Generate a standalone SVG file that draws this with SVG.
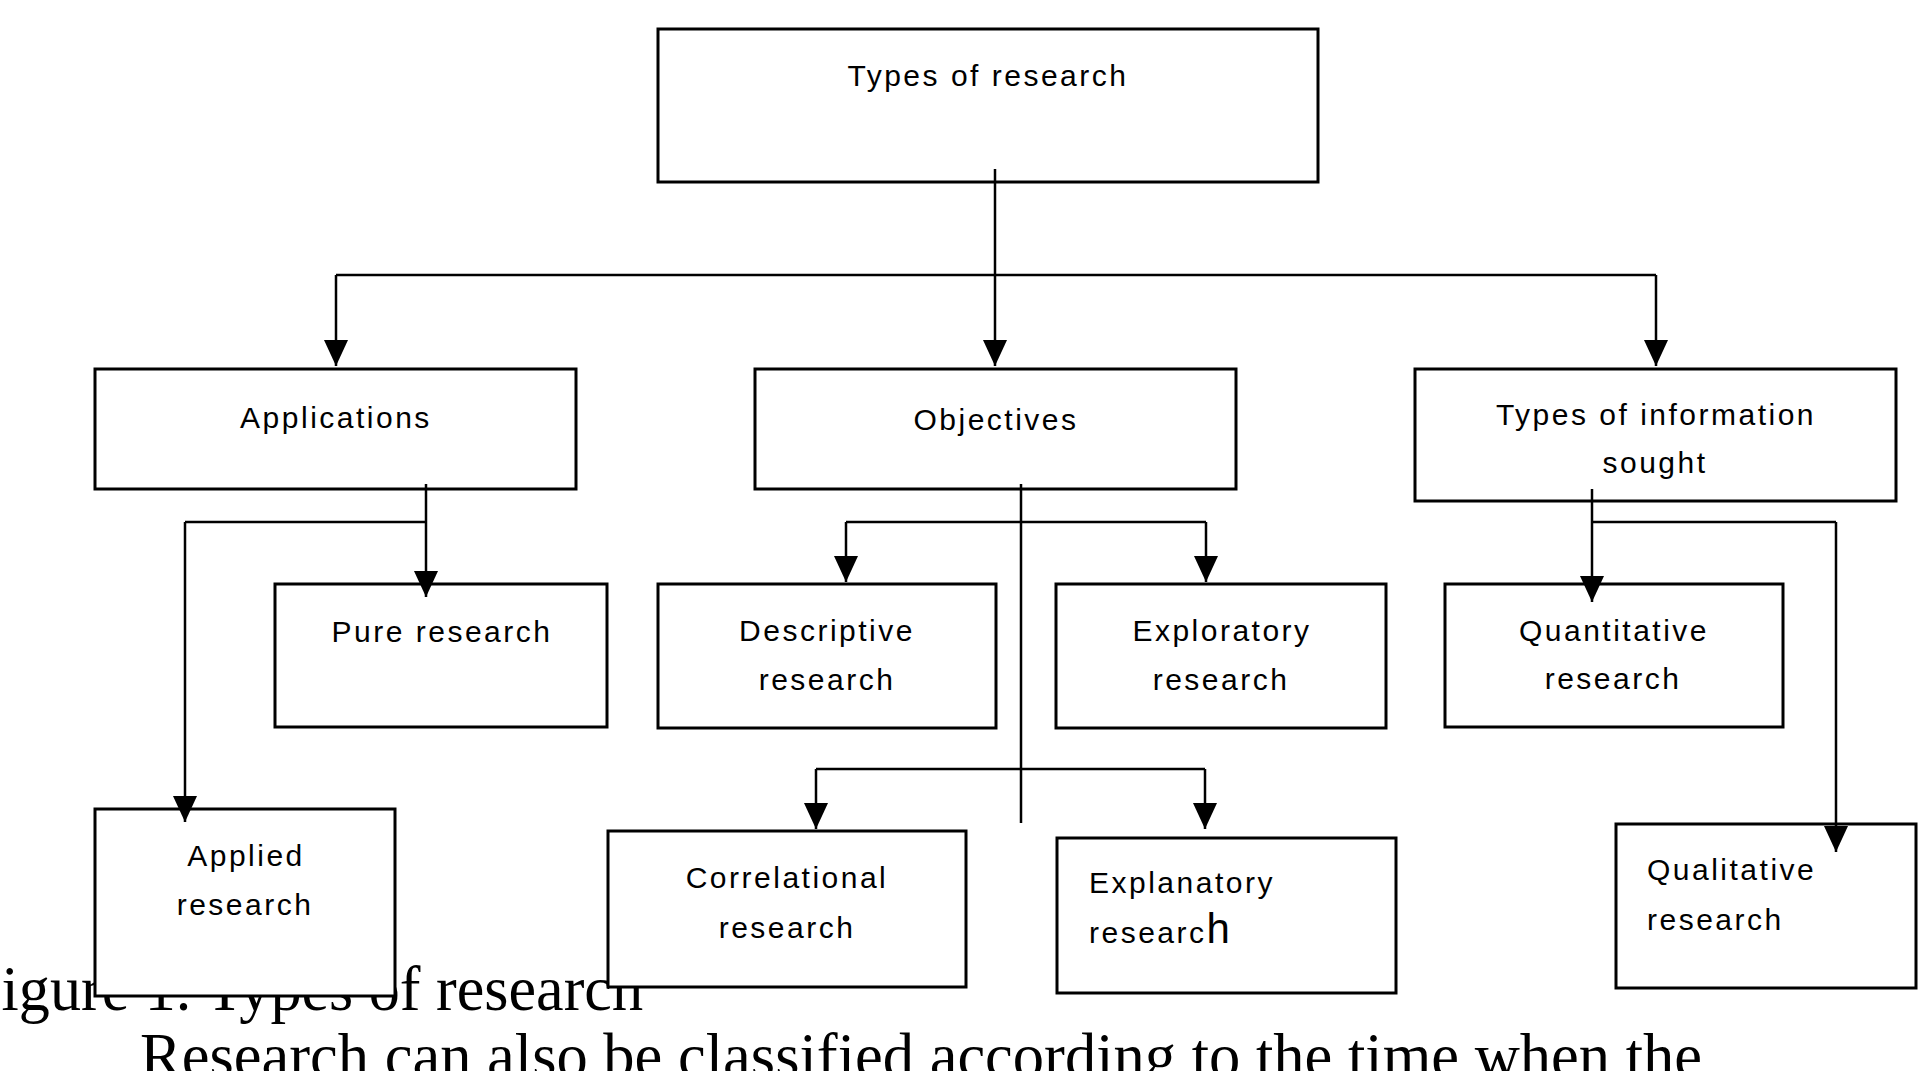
<svg xmlns="http://www.w3.org/2000/svg" width="1922" height="1071" viewBox="0 0 1922 1071">
<style>
  .box { fill: #fff; stroke: #000; stroke-width: 3; }
  .lbl { font-family: "Liberation Sans", Arial, sans-serif; font-size: 30px; letter-spacing: 2.5px; fill: #000; }
  .c { text-anchor: middle; }
  .conn { fill: none; stroke: #000; stroke-width: 2.5; }
  .cap { font-family: "Liberation Serif", "Times New Roman", serif; font-size: 64px; fill: #000; }
</style>
<defs>
  <marker id="arr" markerUnits="userSpaceOnUse" markerWidth="26" markerHeight="24" refX="26" refY="12" orient="auto">
    <path d="M0,0 L26,12 L0,24 z" fill="#000"/>
  </marker>
</defs>
<rect x="0" y="0" width="1922" height="1071" fill="#fff"/>

<g id="caption">
  <text class="cap" x="-33" y="1010" textLength="676" lengthAdjust="spacingAndGlyphs">Figure 1. Types of research</text>
  <text class="cap" x="140" y="1077" textLength="1562" lengthAdjust="spacingAndGlyphs">Research can also be classified according to the time when the</text>
</g>

<g id="node-types-of-research">
  <rect class="box" x="658" y="29" width="660" height="153"/>
  <text class="lbl c" x="988" y="86">Types of research</text>
</g>
<g id="node-applications">
  <rect class="box" x="95" y="369" width="481" height="120"/>
  <text class="lbl c" x="336" y="428">Applications</text>
</g>
<g id="node-objectives">
  <rect class="box" x="755" y="369" width="481" height="120"/>
  <text class="lbl c" x="996" y="430">Objectives</text>
</g>
<g id="node-types-of-information">
  <rect class="box" x="1415" y="369" width="481" height="132"/>
  <text class="lbl c" x="1656" y="425">Types of information</text>
  <text class="lbl c" x="1655" y="473">sought</text>
</g>
<g id="node-pure">
  <rect class="box" x="275" y="584" width="332" height="143"/>
  <text class="lbl c" x="442" y="642">Pure research</text>
</g>
<g id="node-descriptive">
  <rect class="box" x="658" y="584" width="338" height="144"/>
  <text class="lbl c" x="827" y="641">Descriptive</text>
  <text class="lbl c" x="827" y="690">research</text>
</g>
<g id="node-exploratory">
  <rect class="box" x="1056" y="584" width="330" height="144"/>
  <text class="lbl c" x="1222" y="641">Exploratory</text>
  <text class="lbl c" x="1221" y="690">research</text>
</g>
<g id="node-quantitative">
  <rect class="box" x="1445" y="584" width="338" height="143"/>
  <text class="lbl c" x="1614" y="641">Quantitative</text>
  <text class="lbl c" x="1613" y="689">research</text>
</g>
<g id="node-applied">
  <rect class="box" x="95" y="809" width="300" height="187"/>
  <text class="lbl c" x="246" y="866">Applied</text>
  <text class="lbl c" x="245" y="915">research</text>
</g>
<g id="node-correlational">
  <rect class="box" x="608" y="831" width="358" height="156"/>
  <text class="lbl c" x="787" y="888">Correlational</text>
  <text class="lbl c" x="787" y="938">research</text>
</g>
<g id="node-explanatory">
  <rect class="box" x="1057" y="838" width="339" height="155"/>
  <text class="lbl" x="1089" y="893">Explanatory</text>
  <text class="lbl" x="1089" y="943">researc<tspan style="font-size:42px;letter-spacing:0">h</tspan></text>
</g>
<g id="node-qualitative">
  <rect class="box" x="1616" y="824" width="300" height="164"/>
  <text class="lbl" x="1647" y="880">Qualitative</text>
  <text class="lbl" x="1647" y="930">research</text>
</g>

<g id="connectors">
  <line class="conn" x1="995" y1="169" x2="995" y2="366" marker-end="url(#arr)"/>
  <path class="conn" d="M336,275 L1656,275"/>
  <line class="conn" x1="336" y1="275" x2="336" y2="366" marker-end="url(#arr)"/>
  <line class="conn" x1="1656" y1="275" x2="1656" y2="366" marker-end="url(#arr)"/>

  <line class="conn" x1="426" y1="484" x2="426" y2="597" marker-end="url(#arr)"/>
  <path class="conn" d="M426,522 L185,522"/>
  <line class="conn" x1="185" y1="522" x2="185" y2="822" marker-end="url(#arr)"/>

  <line class="conn" x1="1021" y1="484" x2="1021" y2="823"/>
  <path class="conn" d="M846,522 L1206,522"/>
  <line class="conn" x1="846" y1="522" x2="846" y2="582" marker-end="url(#arr)"/>
  <line class="conn" x1="1206" y1="522" x2="1206" y2="582" marker-end="url(#arr)"/>
  <path class="conn" d="M816,769 L1205,769"/>
  <line class="conn" x1="816" y1="769" x2="816" y2="829" marker-end="url(#arr)"/>
  <line class="conn" x1="1205" y1="769" x2="1205" y2="829" marker-end="url(#arr)"/>

  <line class="conn" x1="1592" y1="489" x2="1592" y2="602" marker-end="url(#arr)"/>
  <path class="conn" d="M1592,522 L1836,522"/>
  <line class="conn" x1="1836" y1="522" x2="1836" y2="852" marker-end="url(#arr)"/>
</g>
</svg>
